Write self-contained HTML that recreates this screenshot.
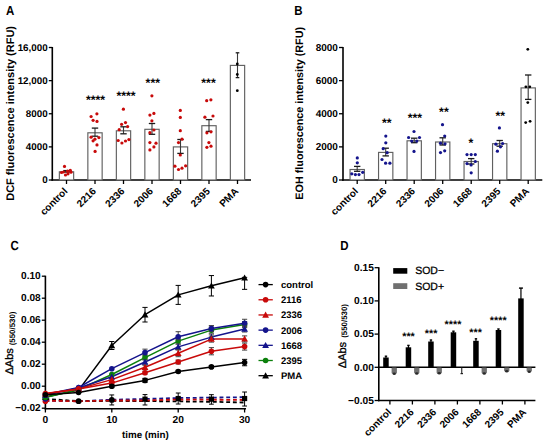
<!DOCTYPE html>
<html><head><meta charset="utf-8"><style>
html,body{margin:0;padding:0;background:#fff;width:550px;height:444px;overflow:hidden}
svg{display:block;font-family:"Liberation Sans", sans-serif}
</style></head><body>
<svg width="550" height="444" viewBox="0 0 550 444" font-family="'Liberation Sans', sans-serif" text-rendering="geometricPrecision">
<rect width="550" height="444" fill="#fff"/>
<text transform="translate(5.9,14.6) scale(0.87,1)" font-size="13.2" font-weight="bold">A</text>
<text transform="translate(294.3,15.0) scale(0.87,1)" font-size="13.2" font-weight="bold">B</text>
<text transform="translate(10.5,249.7) scale(0.87,1)" font-size="13.2" font-weight="bold">C</text>
<text transform="translate(340.3,249.7) scale(0.87,1)" font-size="13.2" font-weight="bold">D</text>
<line x1="52.3" y1="47.0" x2="52.3" y2="180.7" stroke="#000" stroke-width="1.6" />
<line x1="51.5" y1="180.0" x2="251" y2="180.0" stroke="#000" stroke-width="1.6" />
<line x1="48.8" y1="180.0" x2="52.3" y2="180.0" stroke="#000" stroke-width="1.3" />
<text x="47.6" y="183.2" font-size="9.8" text-anchor="end" font-weight="bold" fill="#000" >0</text>
<line x1="48.8" y1="146.875" x2="52.3" y2="146.875" stroke="#000" stroke-width="1.3" />
<text x="47.6" y="150.075" font-size="9.8" text-anchor="end" font-weight="bold" fill="#000" >4000</text>
<line x1="48.8" y1="113.75" x2="52.3" y2="113.75" stroke="#000" stroke-width="1.3" />
<text x="47.6" y="116.95" font-size="9.8" text-anchor="end" font-weight="bold" fill="#000" >8000</text>
<line x1="48.8" y1="80.625" x2="52.3" y2="80.625" stroke="#000" stroke-width="1.3" />
<text x="47.6" y="83.825" font-size="9.8" text-anchor="end" font-weight="bold" fill="#000" >12,000</text>
<line x1="48.8" y1="47.5" x2="52.3" y2="47.5" stroke="#000" stroke-width="1.3" />
<text x="47.6" y="50.7" font-size="9.8" text-anchor="end" font-weight="bold" fill="#000" >16,000</text>
<text transform="translate(13.9,113.4) rotate(-90)" font-size="11" text-anchor="middle" font-weight="bold">DCF fluorescence intensity (RFU)</text>
<rect x="59.35" y="171.8" width="14.3" height="8.199999999999994" fill="#fff" stroke="#606060" stroke-width="1.15"/>
<line x1="66.5" y1="180.0" x2="66.5" y2="184.0" stroke="#000" stroke-width="1.3" />
<text transform="translate(68.1,191.9) rotate(-45)" font-size="10" text-anchor="end" font-weight="bold">control</text>
<rect x="87.85" y="132.8" width="14.3" height="47.199999999999996" fill="#fff" stroke="#606060" stroke-width="1.15"/>
<line x1="95.0" y1="180.0" x2="95.0" y2="184.0" stroke="#000" stroke-width="1.3" />
<text transform="translate(96.6,191.9) rotate(-45)" font-size="10" text-anchor="end" font-weight="bold">2216</text>
<rect x="116.35" y="130.8" width="14.3" height="49.199999999999996" fill="#fff" stroke="#606060" stroke-width="1.15"/>
<line x1="123.5" y1="180.0" x2="123.5" y2="184.0" stroke="#000" stroke-width="1.3" />
<text transform="translate(125.1,191.9) rotate(-45)" font-size="10" text-anchor="end" font-weight="bold">2336</text>
<rect x="144.85" y="129.3" width="14.3" height="50.699999999999996" fill="#fff" stroke="#606060" stroke-width="1.15"/>
<line x1="152.0" y1="180.0" x2="152.0" y2="184.0" stroke="#000" stroke-width="1.3" />
<text transform="translate(153.6,191.9) rotate(-45)" font-size="10" text-anchor="end" font-weight="bold">2006</text>
<rect x="173.35" y="146.9" width="14.3" height="33.1" fill="#fff" stroke="#606060" stroke-width="1.15"/>
<line x1="180.5" y1="180.0" x2="180.5" y2="184.0" stroke="#000" stroke-width="1.3" />
<text transform="translate(182.1,191.9) rotate(-45)" font-size="10" text-anchor="end" font-weight="bold">1668</text>
<rect x="201.85" y="125.7" width="14.3" height="54.300000000000004" fill="#fff" stroke="#606060" stroke-width="1.15"/>
<line x1="209.0" y1="180.0" x2="209.0" y2="184.0" stroke="#000" stroke-width="1.3" />
<text transform="translate(210.6,191.9) rotate(-45)" font-size="10" text-anchor="end" font-weight="bold">2395</text>
<rect x="230.35" y="65.4" width="14.3" height="114.6" fill="#fff" stroke="#606060" stroke-width="1.15"/>
<line x1="237.5" y1="180.0" x2="237.5" y2="184.0" stroke="#000" stroke-width="1.3" />
<text transform="translate(239.1,191.9) rotate(-45)" font-size="10" text-anchor="end" font-weight="bold">PMA</text>
<line x1="66.5" y1="170.6" x2="66.5" y2="172.0" stroke="#3a3a3a" stroke-width="1.1" />
<line x1="63.3" y1="170.6" x2="69.7" y2="170.6" stroke="#1a1a1a" stroke-width="1.3" />
<line x1="63.3" y1="172.0" x2="69.7" y2="172.0" stroke="#1a1a1a" stroke-width="1.3" />
<line x1="95.0" y1="128.1" x2="95.0" y2="136.2" stroke="#3a3a3a" stroke-width="1.1" />
<line x1="91.8" y1="128.1" x2="98.2" y2="128.1" stroke="#1a1a1a" stroke-width="1.3" />
<line x1="91.8" y1="136.2" x2="98.2" y2="136.2" stroke="#1a1a1a" stroke-width="1.3" />
<line x1="123.5" y1="126.8" x2="123.5" y2="133.8" stroke="#3a3a3a" stroke-width="1.1" />
<line x1="120.3" y1="126.8" x2="126.7" y2="126.8" stroke="#1a1a1a" stroke-width="1.3" />
<line x1="120.3" y1="133.8" x2="126.7" y2="133.8" stroke="#1a1a1a" stroke-width="1.3" />
<line x1="152.0" y1="123.5" x2="152.0" y2="134.3" stroke="#3a3a3a" stroke-width="1.1" />
<line x1="148.8" y1="123.5" x2="155.2" y2="123.5" stroke="#1a1a1a" stroke-width="1.3" />
<line x1="148.8" y1="134.3" x2="155.2" y2="134.3" stroke="#1a1a1a" stroke-width="1.3" />
<line x1="180.5" y1="139.5" x2="180.5" y2="153.4" stroke="#3a3a3a" stroke-width="1.1" />
<line x1="177.3" y1="139.5" x2="183.7" y2="139.5" stroke="#1a1a1a" stroke-width="1.3" />
<line x1="177.3" y1="153.4" x2="183.7" y2="153.4" stroke="#1a1a1a" stroke-width="1.3" />
<line x1="209.0" y1="119.6" x2="209.0" y2="131.4" stroke="#3a3a3a" stroke-width="1.1" />
<line x1="205.8" y1="119.6" x2="212.2" y2="119.6" stroke="#1a1a1a" stroke-width="1.3" />
<line x1="205.8" y1="131.4" x2="212.2" y2="131.4" stroke="#1a1a1a" stroke-width="1.3" />
<line x1="237.5" y1="52.8" x2="237.5" y2="77.6" stroke="#3a3a3a" stroke-width="1.1" />
<line x1="235.7" y1="52.8" x2="239.3" y2="52.8" stroke="#1a1a1a" stroke-width="1.3" />
<line x1="235.7" y1="77.6" x2="239.3" y2="77.6" stroke="#1a1a1a" stroke-width="1.3" />
<circle cx="64.5" cy="166.4" r="1.6" fill="#c80a0a"/>
<circle cx="61.5" cy="172.5" r="1.6" fill="#c80a0a"/>
<circle cx="65.5" cy="175.0" r="1.6" fill="#c80a0a"/>
<circle cx="70.3" cy="170.3" r="1.6" fill="#c80a0a"/>
<circle cx="71.0" cy="172.2" r="1.6" fill="#c80a0a"/>
<circle cx="68" cy="173.8" r="1.6" fill="#c80a0a"/>
<circle cx="63.5" cy="172.0" r="1.6" fill="#c80a0a"/>
<circle cx="67.5" cy="171.2" r="1.6" fill="#c80a0a"/>
<circle cx="96.9" cy="113.8" r="1.6" fill="#c80a0a"/>
<circle cx="91.1" cy="116.5" r="1.6" fill="#c80a0a"/>
<circle cx="93.1" cy="120.3" r="1.6" fill="#c80a0a"/>
<circle cx="97" cy="121.4" r="1.6" fill="#c80a0a"/>
<circle cx="91.1" cy="137.2" r="1.6" fill="#c80a0a"/>
<circle cx="94.9" cy="139.2" r="1.6" fill="#c80a0a"/>
<circle cx="98.9" cy="137.6" r="1.6" fill="#c80a0a"/>
<circle cx="93.1" cy="140.8" r="1.6" fill="#c80a0a"/>
<circle cx="97" cy="144.9" r="1.6" fill="#c80a0a"/>
<circle cx="95.1" cy="151.4" r="1.6" fill="#c80a0a"/>
<circle cx="123.4" cy="109.2" r="1.6" fill="#c80a0a"/>
<circle cx="125.5" cy="122.6" r="1.6" fill="#c80a0a"/>
<circle cx="121.6" cy="124.3" r="1.6" fill="#c80a0a"/>
<circle cx="127.6" cy="126.6" r="1.6" fill="#c80a0a"/>
<circle cx="119.2" cy="129.7" r="1.6" fill="#c80a0a"/>
<circle cx="118.2" cy="140.5" r="1.6" fill="#c80a0a"/>
<circle cx="121.9" cy="143" r="1.6" fill="#c80a0a"/>
<circle cx="125.5" cy="141" r="1.6" fill="#c80a0a"/>
<circle cx="128.9" cy="139.6" r="1.6" fill="#c80a0a"/>
<circle cx="151.9" cy="95.8" r="1.6" fill="#c80a0a"/>
<circle cx="149.9" cy="115.1" r="1.6" fill="#c80a0a"/>
<circle cx="153.9" cy="113.4" r="1.6" fill="#c80a0a"/>
<circle cx="151.9" cy="120.8" r="1.6" fill="#c80a0a"/>
<circle cx="153.9" cy="130" r="1.6" fill="#c80a0a"/>
<circle cx="149.9" cy="132.7" r="1.6" fill="#c80a0a"/>
<circle cx="149.9" cy="142.6" r="1.6" fill="#c80a0a"/>
<circle cx="156" cy="143.2" r="1.6" fill="#c80a0a"/>
<circle cx="153.9" cy="146.9" r="1.6" fill="#c80a0a"/>
<circle cx="149.9" cy="149.9" r="1.6" fill="#c80a0a"/>
<circle cx="180.3" cy="110.4" r="1.6" fill="#c80a0a"/>
<circle cx="180.3" cy="117.4" r="1.6" fill="#c80a0a"/>
<circle cx="180.3" cy="130.7" r="1.6" fill="#c80a0a"/>
<circle cx="182" cy="139.2" r="1.6" fill="#c80a0a"/>
<circle cx="178.5" cy="142.6" r="1.6" fill="#c80a0a"/>
<circle cx="180.3" cy="155" r="1.6" fill="#c80a0a"/>
<circle cx="174.9" cy="166.2" r="1.6" fill="#c80a0a"/>
<circle cx="178.5" cy="169.5" r="1.6" fill="#c80a0a"/>
<circle cx="182" cy="168.2" r="1.6" fill="#c80a0a"/>
<circle cx="185.6" cy="165.8" r="1.6" fill="#c80a0a"/>
<circle cx="206.7" cy="100.7" r="1.6" fill="#c80a0a"/>
<circle cx="210.9" cy="99.8" r="1.6" fill="#c80a0a"/>
<circle cx="204.9" cy="117.2" r="1.6" fill="#c80a0a"/>
<circle cx="213" cy="116" r="1.6" fill="#c80a0a"/>
<circle cx="206.9" cy="132.8" r="1.6" fill="#c80a0a"/>
<circle cx="211" cy="131.8" r="1.6" fill="#c80a0a"/>
<circle cx="208.9" cy="142.6" r="1.6" fill="#c80a0a"/>
<circle cx="206.9" cy="147.3" r="1.6" fill="#c80a0a"/>
<circle cx="211" cy="146.2" r="1.6" fill="#c80a0a"/>
<circle cx="237.3" cy="64" r="1.4" fill="#000"/>
<circle cx="237.3" cy="74.5" r="1.4" fill="#000"/>
<circle cx="237.3" cy="90.7" r="1.4" fill="#000"/>
<text x="95.6" y="104.30000000000001" font-size="12.3" text-anchor="middle" font-weight="bold" fill="#000" >****</text>
<text x="126.1" y="99.7" font-size="12.3" text-anchor="middle" font-weight="bold" fill="#000" >****</text>
<text x="152.8" y="87.2" font-size="12.3" text-anchor="middle" font-weight="bold" fill="#000" >***</text>
<text x="208.5" y="87.10000000000001" font-size="12.3" text-anchor="middle" font-weight="bold" fill="#000" >***</text>
<line x1="343.0" y1="47.0" x2="343.0" y2="180.7" stroke="#000" stroke-width="1.6" />
<line x1="342.2" y1="180.0" x2="542.3" y2="180.0" stroke="#000" stroke-width="1.6" />
<line x1="339.0" y1="180.0" x2="343.0" y2="180.0" stroke="#000" stroke-width="1.3" />
<text x="337.9" y="183.2" font-size="10" text-anchor="end" font-weight="bold" fill="#000" >0</text>
<line x1="339.0" y1="146.875" x2="343.0" y2="146.875" stroke="#000" stroke-width="1.3" />
<text x="337.9" y="150.075" font-size="10" text-anchor="end" font-weight="bold" fill="#000" >2000</text>
<line x1="339.0" y1="113.75" x2="343.0" y2="113.75" stroke="#000" stroke-width="1.3" />
<text x="337.9" y="116.95" font-size="10" text-anchor="end" font-weight="bold" fill="#000" >4000</text>
<line x1="339.0" y1="80.625" x2="343.0" y2="80.625" stroke="#000" stroke-width="1.3" />
<text x="337.9" y="83.825" font-size="10" text-anchor="end" font-weight="bold" fill="#000" >6000</text>
<line x1="339.0" y1="47.5" x2="343.0" y2="47.5" stroke="#000" stroke-width="1.3" />
<text x="337.9" y="50.7" font-size="10" text-anchor="end" font-weight="bold" fill="#000" >8000</text>
<text transform="translate(303.0,113.3) rotate(-90)" font-size="10.8" text-anchor="middle" font-weight="bold">EOH fluorescence intensity (RFU)</text>
<rect x="350.05" y="169.5" width="14.3" height="10.499999999999995" fill="#fff" stroke="#606060" stroke-width="1.15"/>
<line x1="357.2" y1="180.0" x2="357.2" y2="184.0" stroke="#000" stroke-width="1.3" />
<text transform="translate(358.8,191.9) rotate(-45)" font-size="10" text-anchor="end" font-weight="bold">control</text>
<rect x="378.55" y="152.4" width="14.3" height="27.599999999999987" fill="#fff" stroke="#606060" stroke-width="1.15"/>
<line x1="385.7" y1="180.0" x2="385.7" y2="184.0" stroke="#000" stroke-width="1.3" />
<text transform="translate(387.3,191.9) rotate(-45)" font-size="10" text-anchor="end" font-weight="bold">2216</text>
<rect x="407.05" y="140.79999999999998" width="14.3" height="39.20000000000001" fill="#fff" stroke="#606060" stroke-width="1.15"/>
<line x1="414.2" y1="180.0" x2="414.2" y2="184.0" stroke="#000" stroke-width="1.3" />
<text transform="translate(415.8,191.9) rotate(-45)" font-size="10" text-anchor="end" font-weight="bold">2336</text>
<rect x="435.55" y="142.0" width="14.3" height="37.99999999999999" fill="#fff" stroke="#606060" stroke-width="1.15"/>
<line x1="442.7" y1="180.0" x2="442.7" y2="184.0" stroke="#000" stroke-width="1.3" />
<text transform="translate(444.3,191.9) rotate(-45)" font-size="10" text-anchor="end" font-weight="bold">2006</text>
<rect x="464.05" y="161.5" width="14.3" height="18.499999999999993" fill="#fff" stroke="#606060" stroke-width="1.15"/>
<line x1="471.2" y1="180.0" x2="471.2" y2="184.0" stroke="#000" stroke-width="1.3" />
<text transform="translate(472.8,191.9) rotate(-45)" font-size="10" text-anchor="end" font-weight="bold">1668</text>
<rect x="492.55" y="143.7" width="14.3" height="36.300000000000004" fill="#fff" stroke="#606060" stroke-width="1.15"/>
<line x1="499.7" y1="180.0" x2="499.7" y2="184.0" stroke="#000" stroke-width="1.3" />
<text transform="translate(501.3,191.9) rotate(-45)" font-size="10" text-anchor="end" font-weight="bold">2395</text>
<rect x="521.0500000000001" y="87.89999999999999" width="14.3" height="92.10000000000001" fill="#fff" stroke="#606060" stroke-width="1.15"/>
<line x1="528.2" y1="180.0" x2="528.2" y2="184.0" stroke="#000" stroke-width="1.3" />
<text transform="translate(529.8000000000001,191.9) rotate(-45)" font-size="10" text-anchor="end" font-weight="bold">PMA</text>
<line x1="357.2" y1="166.4" x2="357.2" y2="171.3" stroke="#3a3a3a" stroke-width="1.1" />
<line x1="354.0" y1="166.4" x2="360.4" y2="166.4" stroke="#1a1a1a" stroke-width="1.3" />
<line x1="354.0" y1="171.3" x2="360.4" y2="171.3" stroke="#1a1a1a" stroke-width="1.3" />
<line x1="385.7" y1="148.2" x2="385.7" y2="155.9" stroke="#3a3a3a" stroke-width="1.1" />
<line x1="382.5" y1="148.2" x2="388.9" y2="148.2" stroke="#1a1a1a" stroke-width="1.3" />
<line x1="382.5" y1="155.9" x2="388.9" y2="155.9" stroke="#1a1a1a" stroke-width="1.3" />
<line x1="414.2" y1="138.2" x2="414.2" y2="142.7" stroke="#3a3a3a" stroke-width="1.1" />
<line x1="411.0" y1="138.2" x2="417.4" y2="138.2" stroke="#1a1a1a" stroke-width="1.3" />
<line x1="411.0" y1="142.7" x2="417.4" y2="142.7" stroke="#1a1a1a" stroke-width="1.3" />
<line x1="442.7" y1="137.8" x2="442.7" y2="145" stroke="#3a3a3a" stroke-width="1.1" />
<line x1="439.5" y1="137.8" x2="445.9" y2="137.8" stroke="#1a1a1a" stroke-width="1.3" />
<line x1="439.5" y1="145" x2="445.9" y2="145" stroke="#1a1a1a" stroke-width="1.3" />
<line x1="471.2" y1="158.6" x2="471.2" y2="164" stroke="#3a3a3a" stroke-width="1.1" />
<line x1="468.0" y1="158.6" x2="474.4" y2="158.6" stroke="#1a1a1a" stroke-width="1.3" />
<line x1="468.0" y1="164" x2="474.4" y2="164" stroke="#1a1a1a" stroke-width="1.3" />
<line x1="499.7" y1="140.5" x2="499.7" y2="146.2" stroke="#3a3a3a" stroke-width="1.1" />
<line x1="496.5" y1="140.5" x2="502.9" y2="140.5" stroke="#1a1a1a" stroke-width="1.3" />
<line x1="496.5" y1="146.2" x2="502.9" y2="146.2" stroke="#1a1a1a" stroke-width="1.3" />
<line x1="528.2" y1="75" x2="528.2" y2="99.4" stroke="#3a3a3a" stroke-width="1.1" />
<line x1="525.0" y1="75" x2="531.4000000000001" y2="75" stroke="#1a1a1a" stroke-width="1.3" />
<line x1="525.0" y1="99.4" x2="531.4000000000001" y2="99.4" stroke="#1a1a1a" stroke-width="1.3" />
<circle cx="357.3" cy="157.9" r="1.6" fill="#14148c"/>
<circle cx="357.3" cy="162.8" r="1.6" fill="#14148c"/>
<circle cx="351.8" cy="173.8" r="1.6" fill="#14148c"/>
<circle cx="355.4" cy="174.6" r="1.6" fill="#14148c"/>
<circle cx="359" cy="174.6" r="1.6" fill="#14148c"/>
<circle cx="362.7" cy="172.3" r="1.6" fill="#14148c"/>
<circle cx="385.8" cy="136.1" r="1.6" fill="#14148c"/>
<circle cx="385.8" cy="142.8" r="1.6" fill="#14148c"/>
<circle cx="383.2" cy="148.7" r="1.6" fill="#14148c"/>
<circle cx="387.2" cy="152.7" r="1.6" fill="#14148c"/>
<circle cx="382" cy="159.5" r="1.6" fill="#14148c"/>
<circle cx="385.6" cy="163.2" r="1.6" fill="#14148c"/>
<circle cx="389.9" cy="163.2" r="1.6" fill="#14148c"/>
<circle cx="414" cy="131.5" r="1.6" fill="#14148c"/>
<circle cx="408.6" cy="137.5" r="1.6" fill="#14148c"/>
<circle cx="419.5" cy="137.5" r="1.6" fill="#14148c"/>
<circle cx="411.7" cy="141.1" r="1.6" fill="#14148c"/>
<circle cx="416.8" cy="141.1" r="1.6" fill="#14148c"/>
<circle cx="414" cy="151.4" r="1.6" fill="#14148c"/>
<circle cx="442.5" cy="124.7" r="1.6" fill="#14148c"/>
<circle cx="444.7" cy="136" r="1.6" fill="#14148c"/>
<circle cx="440.5" cy="143.2" r="1.6" fill="#14148c"/>
<circle cx="445" cy="143.8" r="1.6" fill="#14148c"/>
<circle cx="440.5" cy="152.6" r="1.6" fill="#14148c"/>
<circle cx="444.7" cy="150.8" r="1.6" fill="#14148c"/>
<circle cx="467" cy="154.6" r="1.6" fill="#14148c"/>
<circle cx="471.2" cy="154.6" r="1.6" fill="#14148c"/>
<circle cx="475.3" cy="154.6" r="1.6" fill="#14148c"/>
<circle cx="467" cy="163.6" r="1.6" fill="#14148c"/>
<circle cx="471.1" cy="164.9" r="1.6" fill="#14148c"/>
<circle cx="475.3" cy="161.5" r="1.6" fill="#14148c"/>
<circle cx="471.2" cy="172.8" r="1.6" fill="#14148c"/>
<circle cx="499.4" cy="127.9" r="1.6" fill="#14148c"/>
<circle cx="495.9" cy="144.2" r="1.6" fill="#14148c"/>
<circle cx="502.6" cy="143.5" r="1.6" fill="#14148c"/>
<circle cx="500.5" cy="146.8" r="1.6" fill="#14148c"/>
<circle cx="497.4" cy="151.2" r="1.6" fill="#14148c"/>
<circle cx="527.8" cy="49.3" r="1.4" fill="#000"/>
<circle cx="525.9" cy="86.8" r="1.4" fill="#000"/>
<circle cx="529.8" cy="86.8" r="1.4" fill="#000"/>
<circle cx="527.8" cy="102.6" r="1.4" fill="#000"/>
<circle cx="525.7" cy="122.6" r="1.4" fill="#000"/>
<circle cx="530.1" cy="121.3" r="1.4" fill="#000"/>
<text x="386.7" y="126.9" font-size="12.3" text-anchor="middle" font-weight="bold" fill="#000" >**</text>
<text x="414.9" y="122.4" font-size="12.3" text-anchor="middle" font-weight="bold" fill="#000" >***</text>
<text x="443.9" y="115.9" font-size="12.3" text-anchor="middle" font-weight="bold" fill="#000" >**</text>
<text x="471" y="147.20000000000002" font-size="12.3" text-anchor="middle" font-weight="bold" fill="#000" >*</text>
<text x="500.3" y="120.10000000000001" font-size="12.3" text-anchor="middle" font-weight="bold" fill="#000" >**</text>
<line x1="45.4" y1="275.7" x2="45.4" y2="409.2" stroke="#000" stroke-width="1.6" />
<line x1="44.6" y1="408.7" x2="246" y2="408.7" stroke="#000" stroke-width="1.6" />
<line x1="41.8" y1="276.2" x2="45.4" y2="276.2" stroke="#000" stroke-width="1.3" />
<text x="40.7" y="279.2" font-size="10.1" text-anchor="end" font-weight="bold" fill="#000" >0.10</text>
<line x1="41.8" y1="298.2" x2="45.4" y2="298.2" stroke="#000" stroke-width="1.3" />
<text x="40.7" y="301.2" font-size="10.1" text-anchor="end" font-weight="bold" fill="#000" >0.08</text>
<line x1="41.8" y1="320.2" x2="45.4" y2="320.2" stroke="#000" stroke-width="1.3" />
<text x="40.7" y="323.2" font-size="10.1" text-anchor="end" font-weight="bold" fill="#000" >0.06</text>
<line x1="41.8" y1="342.2" x2="45.4" y2="342.2" stroke="#000" stroke-width="1.3" />
<text x="40.7" y="345.2" font-size="10.1" text-anchor="end" font-weight="bold" fill="#000" >0.04</text>
<line x1="41.8" y1="364.2" x2="45.4" y2="364.2" stroke="#000" stroke-width="1.3" />
<text x="40.7" y="367.2" font-size="10.1" text-anchor="end" font-weight="bold" fill="#000" >0.02</text>
<line x1="41.8" y1="386.2" x2="45.4" y2="386.2" stroke="#000" stroke-width="1.3" />
<text x="40.7" y="389.2" font-size="10.1" text-anchor="end" font-weight="bold" fill="#000" >0.00</text>
<line x1="41.8" y1="408.2" x2="45.4" y2="408.2" stroke="#000" stroke-width="1.3" />
<text x="40.7" y="411.2" font-size="10.1" text-anchor="end" font-weight="bold" fill="#000" >−0.02</text>
<line x1="45.4" y1="408.7" x2="45.4" y2="412.5" stroke="#000" stroke-width="1.3" />
<text x="45.4" y="423.4" font-size="10.2" text-anchor="middle" font-weight="bold" fill="#000" >0</text>
<line x1="111.79999999999998" y1="408.7" x2="111.79999999999998" y2="412.5" stroke="#000" stroke-width="1.3" />
<text x="111.79999999999998" y="423.4" font-size="10.2" text-anchor="middle" font-weight="bold" fill="#000" >10</text>
<line x1="178.2" y1="408.7" x2="178.2" y2="412.5" stroke="#000" stroke-width="1.3" />
<text x="178.2" y="423.4" font-size="10.2" text-anchor="middle" font-weight="bold" fill="#000" >20</text>
<line x1="244.6" y1="408.7" x2="244.6" y2="412.5" stroke="#000" stroke-width="1.3" />
<text x="244.6" y="423.4" font-size="10.2" text-anchor="middle" font-weight="bold" fill="#000" >30</text>
<text x="145.4" y="437.5" font-size="9.8" text-anchor="middle" font-weight="bold" fill="#000" >time (min)</text>
<text transform="translate(12.6,374.5) rotate(-90)" font-size="11" font-weight="normal" stroke="#000" stroke-width="0.3">ΔAbs</text>
<text transform="translate(15.1,345.3) rotate(-90)" font-size="7.9" font-weight="bold">(550/530)</text>
<polyline points="45.4,400.7 78.6,401.3 111.8,399.7 145.0,399.0 178.2,398.0 211.4,397.6 244.6,397.2" fill="none" stroke="#14148c" stroke-width="1.8" stroke-dasharray="3.9,2.8"/>
<polyline points="45.4,398.8 78.6,401.2 111.8,400.9 145.0,401.1 178.2,401.4 211.4,401.8 244.6,402.5" fill="none" stroke="#000" stroke-width="1.8" stroke-dasharray="3.9,2.8"/>
<polyline points="45.4,400.7 78.6,401.3 111.8,400.5 145.0,400.5 178.2,399.5 211.4,399.7 244.6,400.0" fill="none" stroke="#c80a0a" stroke-width="1.8" stroke-dasharray="3.9,2.8"/>
<circle cx="78.6" cy="401.2" r="2.9" fill="#000"/>
<line x1="111.79999999999998" y1="394.95" x2="111.79999999999998" y2="404.95" stroke="#000" stroke-width="1.0" />
<line x1="109.39999999999998" y1="394.95" x2="114.19999999999999" y2="394.95" stroke="#000" stroke-width="1.0" />
<line x1="109.39999999999998" y1="404.95" x2="114.19999999999999" y2="404.95" stroke="#000" stroke-width="1.0" />
<circle cx="111.8" cy="399.9" r="2.9" fill="#000"/>
<line x1="145.0" y1="394.58" x2="145.0" y2="404.98" stroke="#000" stroke-width="1.0" />
<line x1="142.6" y1="394.58" x2="147.4" y2="394.58" stroke="#000" stroke-width="1.0" />
<line x1="142.6" y1="404.98" x2="147.4" y2="404.98" stroke="#000" stroke-width="1.0" />
<rect x="142.4" y="396.58" width="5.2" height="5.2" fill="#000"/>
<line x1="178.2" y1="393.02" x2="178.2" y2="404.02" stroke="#000" stroke-width="1.0" />
<line x1="175.79999999999998" y1="393.02" x2="180.6" y2="393.02" stroke="#000" stroke-width="1.0" />
<line x1="175.79999999999998" y1="404.02" x2="180.6" y2="404.02" stroke="#000" stroke-width="1.0" />
<rect x="175.6" y="395.91999999999996" width="5.2" height="5.2" fill="#000"/>
<line x1="211.4" y1="394.68" x2="211.4" y2="404.18" stroke="#000" stroke-width="1.0" />
<line x1="209.0" y1="394.68" x2="213.8" y2="394.68" stroke="#000" stroke-width="1.0" />
<line x1="209.0" y1="404.18" x2="213.8" y2="404.18" stroke="#000" stroke-width="1.0" />
<rect x="208.8" y="396.58" width="5.2" height="5.2" fill="#000"/>
<line x1="244.6" y1="392.02" x2="244.6" y2="406.02" stroke="#000" stroke-width="1.0" />
<line x1="242.2" y1="392.02" x2="247.0" y2="392.02" stroke="#000" stroke-width="1.0" />
<line x1="242.2" y1="406.02" x2="247.0" y2="406.02" stroke="#000" stroke-width="1.0" />
<rect x="242.0" y="395.91999999999996" width="5.2" height="5.2" fill="#000"/>
<circle cx="45.4" cy="401.2" r="2.8" fill="#c80a0a"/>
<circle cx="45.4" cy="399.0" r="2.8" fill="#14148c"/>
<polyline points="45.4,397.0 78.6,390.1 111.8,345.5 145.0,314.7 178.2,294.9 211.4,285.8 244.6,277.8" fill="none" stroke="#000" stroke-width="1.5" stroke-linejoin="round"/>
<polyline points="45.4,397.5 78.6,389.5 111.8,374.5 145.0,357.6 178.2,341.1 211.4,330.1 244.6,324.6" fill="none" stroke="#0c800c" stroke-width="1.5" stroke-linejoin="round"/>
<polyline points="45.4,394.4 78.6,387.5 111.8,368.7 145.0,352.6 178.2,336.7 211.4,328.6 244.6,323.3" fill="none" stroke="#14148c" stroke-width="1.5" stroke-linejoin="round"/>
<polyline points="45.4,395.0 78.6,388.0 111.8,376.8 145.0,362.0 178.2,346.9 211.4,337.1 244.6,329.0" fill="none" stroke="#14148c" stroke-width="1.5" stroke-linejoin="round"/>
<polyline points="45.4,393.7 78.6,388.9 111.8,379.6 145.0,367.3 178.2,353.2 211.4,339.1 244.6,338.9" fill="none" stroke="#c80a0a" stroke-width="1.5" stroke-linejoin="round"/>
<polyline points="45.4,393.5 78.6,388.9 111.8,383.1 145.0,372.7 178.2,362.0 211.4,351.2 244.6,346.6" fill="none" stroke="#c80a0a" stroke-width="1.5" stroke-linejoin="round"/>
<polyline points="45.4,394.8 78.6,392.5 111.8,386.2 145.0,380.4 178.2,371.5 211.4,366.9 244.6,362.6" fill="none" stroke="#000" stroke-width="1.5" stroke-linejoin="round"/>
<polygon points="45.4,393.6 48.8,399.7 42.0,399.7" fill="#000"/>
<polygon points="78.6,386.7 82.0,392.8 75.2,392.8" fill="#000"/>
<line x1="111.79999999999998" y1="341.5" x2="111.79999999999998" y2="349.5" stroke="#000" stroke-width="1.0" />
<line x1="109.19999999999999" y1="341.5" x2="114.39999999999998" y2="341.5" stroke="#000" stroke-width="1.0" />
<line x1="109.19999999999999" y1="349.5" x2="114.39999999999998" y2="349.5" stroke="#000" stroke-width="1.0" />
<polygon points="111.8,342.1 115.2,348.2 108.4,348.2" fill="#000"/>
<line x1="145.0" y1="307.4" x2="145.0" y2="322.0" stroke="#000" stroke-width="1.0" />
<line x1="142.4" y1="307.4" x2="147.6" y2="307.4" stroke="#000" stroke-width="1.0" />
<line x1="142.4" y1="322.0" x2="147.6" y2="322.0" stroke="#000" stroke-width="1.0" />
<polygon points="145.0,311.3 148.4,317.4 141.6,317.4" fill="#000"/>
<line x1="178.2" y1="285.4" x2="178.2" y2="304.4" stroke="#000" stroke-width="1.0" />
<line x1="175.6" y1="285.4" x2="180.79999999999998" y2="285.4" stroke="#000" stroke-width="1.0" />
<line x1="175.6" y1="304.4" x2="180.79999999999998" y2="304.4" stroke="#000" stroke-width="1.0" />
<polygon points="178.2,291.5 181.6,297.6 174.8,297.6" fill="#000"/>
<line x1="211.4" y1="275.57" x2="211.4" y2="295.96999999999997" stroke="#000" stroke-width="1.0" />
<line x1="208.8" y1="275.57" x2="214.0" y2="275.57" stroke="#000" stroke-width="1.0" />
<line x1="208.8" y1="295.96999999999997" x2="214.0" y2="295.96999999999997" stroke="#000" stroke-width="1.0" />
<polygon points="211.4,282.4 214.8,288.5 208.0,288.5" fill="#000"/>
<line x1="244.6" y1="277.34999999999997" x2="244.6" y2="289.34999999999997" stroke="#000" stroke-width="1.0" />
<line x1="242.0" y1="277.34999999999997" x2="247.2" y2="277.34999999999997" stroke="#000" stroke-width="1.0" />
<line x1="242.0" y1="289.34999999999997" x2="247.2" y2="289.34999999999997" stroke="#000" stroke-width="1.0" />
<polygon points="244.6,274.4 248.0,280.6 241.2,280.6" fill="#000"/>
<circle cx="45.4" cy="397.5" r="2.8" fill="#0c800c"/>
<circle cx="78.6" cy="389.5" r="2.8" fill="#0c800c"/>
<circle cx="111.8" cy="374.5" r="2.8" fill="#0c800c"/>
<line x1="145.0" y1="355.59999999999997" x2="145.0" y2="359.59999999999997" stroke="#444" stroke-width="1.0" />
<line x1="142.4" y1="355.59999999999997" x2="147.6" y2="355.59999999999997" stroke="#444" stroke-width="1.0" />
<line x1="142.4" y1="359.59999999999997" x2="147.6" y2="359.59999999999997" stroke="#444" stroke-width="1.0" />
<circle cx="145.0" cy="357.6" r="2.8" fill="#0c800c"/>
<line x1="178.2" y1="338.09999999999997" x2="178.2" y2="344.09999999999997" stroke="#444" stroke-width="1.0" />
<line x1="175.6" y1="338.09999999999997" x2="180.79999999999998" y2="338.09999999999997" stroke="#444" stroke-width="1.0" />
<line x1="175.6" y1="344.09999999999997" x2="180.79999999999998" y2="344.09999999999997" stroke="#444" stroke-width="1.0" />
<circle cx="178.2" cy="341.1" r="2.8" fill="#0c800c"/>
<line x1="211.4" y1="327.1" x2="211.4" y2="333.1" stroke="#444" stroke-width="1.0" />
<line x1="208.8" y1="327.1" x2="214.0" y2="327.1" stroke="#444" stroke-width="1.0" />
<line x1="208.8" y1="333.1" x2="214.0" y2="333.1" stroke="#444" stroke-width="1.0" />
<circle cx="211.4" cy="330.1" r="2.8" fill="#0c800c"/>
<line x1="244.6" y1="321.59999999999997" x2="244.6" y2="327.59999999999997" stroke="#444" stroke-width="1.0" />
<line x1="242.0" y1="321.59999999999997" x2="247.2" y2="321.59999999999997" stroke="#444" stroke-width="1.0" />
<line x1="242.0" y1="327.59999999999997" x2="247.2" y2="327.59999999999997" stroke="#444" stroke-width="1.0" />
<circle cx="244.6" cy="324.6" r="2.8" fill="#0c800c"/>
<circle cx="45.4" cy="394.4" r="2.8" fill="#14148c"/>
<circle cx="78.6" cy="387.5" r="2.8" fill="#14148c"/>
<circle cx="111.8" cy="368.7" r="2.8" fill="#14148c"/>
<line x1="145.0" y1="349.15" x2="145.0" y2="354.65" stroke="#444" stroke-width="1.0" />
<line x1="142.4" y1="349.15" x2="147.6" y2="349.15" stroke="#444" stroke-width="1.0" />
<line x1="142.4" y1="354.65" x2="147.6" y2="354.65" stroke="#444" stroke-width="1.0" />
<circle cx="145.0" cy="352.6" r="2.8" fill="#14148c"/>
<line x1="178.2" y1="331.7" x2="178.2" y2="339.7" stroke="#444" stroke-width="1.0" />
<line x1="175.6" y1="331.7" x2="180.79999999999998" y2="331.7" stroke="#444" stroke-width="1.0" />
<line x1="175.6" y1="339.7" x2="180.79999999999998" y2="339.7" stroke="#444" stroke-width="1.0" />
<circle cx="178.2" cy="336.7" r="2.8" fill="#14148c"/>
<line x1="211.4" y1="325.56" x2="211.4" y2="331.56" stroke="#444" stroke-width="1.0" />
<line x1="208.8" y1="325.56" x2="214.0" y2="325.56" stroke="#444" stroke-width="1.0" />
<line x1="208.8" y1="331.56" x2="214.0" y2="331.56" stroke="#444" stroke-width="1.0" />
<circle cx="211.4" cy="328.6" r="2.8" fill="#14148c"/>
<line x1="244.6" y1="319.28" x2="244.6" y2="326.28" stroke="#444" stroke-width="1.0" />
<line x1="242.0" y1="319.28" x2="247.2" y2="319.28" stroke="#444" stroke-width="1.0" />
<line x1="242.0" y1="326.28" x2="247.2" y2="326.28" stroke="#444" stroke-width="1.0" />
<circle cx="244.6" cy="323.3" r="2.8" fill="#14148c"/>
<polygon points="45.4,391.6 48.8,397.7 42.0,397.7" fill="#14148c"/>
<polygon points="78.6,384.6 82.0,390.7 75.2,390.7" fill="#14148c"/>
<polygon points="111.8,373.4 115.2,379.6 108.4,379.6" fill="#14148c"/>
<line x1="145.0" y1="360.0" x2="145.0" y2="364.0" stroke="#444" stroke-width="1.0" />
<line x1="142.4" y1="360.0" x2="147.6" y2="360.0" stroke="#444" stroke-width="1.0" />
<line x1="142.4" y1="364.0" x2="147.6" y2="364.0" stroke="#444" stroke-width="1.0" />
<polygon points="145.0,358.6 148.4,364.7 141.6,364.7" fill="#14148c"/>
<line x1="178.2" y1="343.93" x2="178.2" y2="349.93" stroke="#444" stroke-width="1.0" />
<line x1="175.6" y1="343.93" x2="180.79999999999998" y2="343.93" stroke="#444" stroke-width="1.0" />
<line x1="175.6" y1="349.93" x2="180.79999999999998" y2="349.93" stroke="#444" stroke-width="1.0" />
<polygon points="178.2,343.5 181.6,349.7 174.8,349.7" fill="#14148c"/>
<line x1="211.4" y1="334.14" x2="211.4" y2="340.14" stroke="#444" stroke-width="1.0" />
<line x1="208.8" y1="334.14" x2="214.0" y2="334.14" stroke="#444" stroke-width="1.0" />
<line x1="208.8" y1="340.14" x2="214.0" y2="340.14" stroke="#444" stroke-width="1.0" />
<polygon points="211.4,333.7 214.8,339.9 208.0,339.9" fill="#14148c"/>
<line x1="244.6" y1="326.0" x2="244.6" y2="332.0" stroke="#444" stroke-width="1.0" />
<line x1="242.0" y1="326.0" x2="247.2" y2="326.0" stroke="#444" stroke-width="1.0" />
<line x1="242.0" y1="332.0" x2="247.2" y2="332.0" stroke="#444" stroke-width="1.0" />
<polygon points="244.6,325.6 248.0,331.7 241.2,331.7" fill="#14148c"/>
<polygon points="45.4,390.3 48.8,396.4 42.0,396.4" fill="#c80a0a"/>
<polygon points="78.6,385.6 82.0,391.7 75.2,391.7" fill="#c80a0a"/>
<polygon points="111.8,376.2 115.2,382.3 108.4,382.3" fill="#c80a0a"/>
<line x1="145.0" y1="365.28" x2="145.0" y2="369.28" stroke="#444" stroke-width="1.0" />
<line x1="142.4" y1="365.28" x2="147.6" y2="365.28" stroke="#444" stroke-width="1.0" />
<line x1="142.4" y1="369.28" x2="147.6" y2="369.28" stroke="#444" stroke-width="1.0" />
<polygon points="145.0,363.9 148.4,370.0 141.6,370.0" fill="#c80a0a"/>
<line x1="178.2" y1="349.7" x2="178.2" y2="356.7" stroke="#444" stroke-width="1.0" />
<line x1="175.6" y1="349.7" x2="180.79999999999998" y2="349.7" stroke="#444" stroke-width="1.0" />
<line x1="175.6" y1="356.7" x2="180.79999999999998" y2="356.7" stroke="#444" stroke-width="1.0" />
<polygon points="178.2,349.8 181.6,355.9 174.8,355.9" fill="#c80a0a"/>
<line x1="211.4" y1="336.12" x2="211.4" y2="342.12" stroke="#444" stroke-width="1.0" />
<line x1="208.8" y1="336.12" x2="214.0" y2="336.12" stroke="#444" stroke-width="1.0" />
<line x1="208.8" y1="342.12" x2="214.0" y2="342.12" stroke="#444" stroke-width="1.0" />
<polygon points="211.4,335.7 214.8,341.8 208.0,341.8" fill="#c80a0a"/>
<line x1="244.6" y1="335.9" x2="244.6" y2="341.9" stroke="#444" stroke-width="1.0" />
<line x1="242.0" y1="335.9" x2="247.2" y2="335.9" stroke="#444" stroke-width="1.0" />
<line x1="242.0" y1="341.9" x2="247.2" y2="341.9" stroke="#444" stroke-width="1.0" />
<polygon points="244.6,335.5 248.0,341.6 241.2,341.6" fill="#c80a0a"/>
<circle cx="45.4" cy="393.5" r="2.8" fill="#c80a0a"/>
<circle cx="78.6" cy="388.9" r="2.8" fill="#c80a0a"/>
<circle cx="111.8" cy="383.1" r="2.8" fill="#c80a0a"/>
<line x1="145.0" y1="371.17" x2="145.0" y2="374.17" stroke="#444" stroke-width="1.0" />
<line x1="142.4" y1="371.17" x2="147.6" y2="371.17" stroke="#444" stroke-width="1.0" />
<line x1="142.4" y1="374.17" x2="147.6" y2="374.17" stroke="#444" stroke-width="1.0" />
<circle cx="145.0" cy="372.7" r="2.8" fill="#c80a0a"/>
<line x1="178.2" y1="360.0" x2="178.2" y2="364.0" stroke="#444" stroke-width="1.0" />
<line x1="175.6" y1="360.0" x2="180.79999999999998" y2="360.0" stroke="#444" stroke-width="1.0" />
<line x1="175.6" y1="364.0" x2="180.79999999999998" y2="364.0" stroke="#444" stroke-width="1.0" />
<circle cx="178.2" cy="362.0" r="2.8" fill="#c80a0a"/>
<line x1="211.4" y1="347.61999999999995" x2="211.4" y2="354.82" stroke="#444" stroke-width="1.0" />
<line x1="208.8" y1="347.61999999999995" x2="214.0" y2="347.61999999999995" stroke="#444" stroke-width="1.0" />
<line x1="208.8" y1="354.82" x2="214.0" y2="354.82" stroke="#444" stroke-width="1.0" />
<circle cx="211.4" cy="351.2" r="2.8" fill="#c80a0a"/>
<line x1="244.6" y1="343.1" x2="244.6" y2="350.1" stroke="#444" stroke-width="1.0" />
<line x1="242.0" y1="343.1" x2="247.2" y2="343.1" stroke="#444" stroke-width="1.0" />
<line x1="242.0" y1="350.1" x2="247.2" y2="350.1" stroke="#444" stroke-width="1.0" />
<circle cx="244.6" cy="346.6" r="2.8" fill="#c80a0a"/>
<circle cx="45.4" cy="394.8" r="2.8" fill="#000"/>
<circle cx="78.6" cy="392.5" r="2.8" fill="#000"/>
<line x1="111.79999999999998" y1="384.7" x2="111.79999999999998" y2="387.7" stroke="#000" stroke-width="1.0" />
<line x1="109.19999999999999" y1="384.7" x2="114.39999999999998" y2="384.7" stroke="#000" stroke-width="1.0" />
<line x1="109.19999999999999" y1="387.7" x2="114.39999999999998" y2="387.7" stroke="#000" stroke-width="1.0" />
<circle cx="111.8" cy="386.2" r="2.8" fill="#000"/>
<line x1="145.0" y1="378.37" x2="145.0" y2="382.37" stroke="#000" stroke-width="1.0" />
<line x1="142.4" y1="378.37" x2="147.6" y2="378.37" stroke="#000" stroke-width="1.0" />
<line x1="142.4" y1="382.37" x2="147.6" y2="382.37" stroke="#000" stroke-width="1.0" />
<circle cx="145.0" cy="380.4" r="2.8" fill="#000"/>
<line x1="178.2" y1="370.26" x2="178.2" y2="372.65999999999997" stroke="#000" stroke-width="1.0" />
<line x1="175.6" y1="370.26" x2="180.79999999999998" y2="370.26" stroke="#000" stroke-width="1.0" />
<line x1="175.6" y1="372.65999999999997" x2="180.79999999999998" y2="372.65999999999997" stroke="#000" stroke-width="1.0" />
<circle cx="178.2" cy="371.5" r="2.8" fill="#000"/>
<line x1="211.4" y1="365.75" x2="211.4" y2="368.15" stroke="#000" stroke-width="1.0" />
<line x1="208.8" y1="365.75" x2="214.0" y2="365.75" stroke="#000" stroke-width="1.0" />
<line x1="208.8" y1="368.15" x2="214.0" y2="368.15" stroke="#000" stroke-width="1.0" />
<circle cx="211.4" cy="366.9" r="2.8" fill="#000"/>
<line x1="244.6" y1="359.35" x2="244.6" y2="365.75" stroke="#000" stroke-width="1.0" />
<line x1="242.0" y1="359.35" x2="247.2" y2="359.35" stroke="#000" stroke-width="1.0" />
<line x1="242.0" y1="365.75" x2="247.2" y2="365.75" stroke="#000" stroke-width="1.0" />
<circle cx="244.6" cy="362.6" r="2.8" fill="#000"/>
<line x1="258.5" y1="284.6" x2="272.8" y2="284.6" stroke="#000" stroke-width="1.3" />
<circle cx="265.6" cy="284.6" r="2.8" fill="#000"/>
<text x="281.0" y="288.1" font-size="9.5" text-anchor="start" font-weight="bold" fill="#000" >control</text>
<line x1="258.5" y1="299.78000000000003" x2="272.8" y2="299.78000000000003" stroke="#c80a0a" stroke-width="1.3" />
<circle cx="265.6" cy="299.8" r="2.8" fill="#c80a0a"/>
<text x="281.0" y="303.28000000000003" font-size="9.5" text-anchor="start" font-weight="bold" fill="#000" >2116</text>
<line x1="258.5" y1="314.96000000000004" x2="272.8" y2="314.96000000000004" stroke="#c80a0a" stroke-width="1.3" />
<polygon points="265.6,311.6 269.0,317.7 262.2,317.7" fill="#c80a0a"/>
<text x="281.0" y="318.46000000000004" font-size="9.5" text-anchor="start" font-weight="bold" fill="#000" >2336</text>
<line x1="258.5" y1="330.14000000000004" x2="272.8" y2="330.14000000000004" stroke="#14148c" stroke-width="1.3" />
<circle cx="265.6" cy="330.1" r="2.8" fill="#14148c"/>
<text x="281.0" y="333.64000000000004" font-size="9.5" text-anchor="start" font-weight="bold" fill="#000" >2006</text>
<line x1="258.5" y1="345.32000000000005" x2="272.8" y2="345.32000000000005" stroke="#14148c" stroke-width="1.3" />
<polygon points="265.6,341.9 269.0,348.0 262.2,348.0" fill="#14148c"/>
<text x="281.0" y="348.82000000000005" font-size="9.5" text-anchor="start" font-weight="bold" fill="#000" >1668</text>
<line x1="258.5" y1="360.5" x2="272.8" y2="360.5" stroke="#0c800c" stroke-width="1.3" />
<circle cx="265.6" cy="360.5" r="2.8" fill="#0c800c"/>
<text x="281.0" y="364.0" font-size="9.5" text-anchor="start" font-weight="bold" fill="#000" >2395</text>
<line x1="258.5" y1="375.68" x2="272.8" y2="375.68" stroke="#000" stroke-width="1.3" />
<polygon points="265.6,372.3 269.0,378.4 262.2,378.4" fill="#000"/>
<text x="281.0" y="379.18" font-size="9.5" text-anchor="start" font-weight="bold" fill="#000" >PMA</text>
<line x1="378.8" y1="267.20000000000005" x2="378.8" y2="401.2" stroke="#000" stroke-width="1.6" />
<line x1="374.6" y1="267.70000000000005" x2="378.8" y2="267.70000000000005" stroke="#000" stroke-width="1.3" />
<text x="373.9" y="271.00000000000006" font-size="10.2" text-anchor="end" font-weight="bold" fill="#000" >0.15</text>
<line x1="374.6" y1="300.9" x2="378.8" y2="300.9" stroke="#000" stroke-width="1.3" />
<text x="373.9" y="304.2" font-size="10.2" text-anchor="end" font-weight="bold" fill="#000" >0.10</text>
<line x1="374.6" y1="334.1" x2="378.8" y2="334.1" stroke="#000" stroke-width="1.3" />
<text x="373.9" y="337.40000000000003" font-size="10.2" text-anchor="end" font-weight="bold" fill="#000" >0.05</text>
<line x1="374.6" y1="367.3" x2="378.8" y2="367.3" stroke="#000" stroke-width="1.3" />
<text x="373.9" y="370.6" font-size="10.2" text-anchor="end" font-weight="bold" fill="#000" >0.00</text>
<line x1="374.6" y1="400.5" x2="378.8" y2="400.5" stroke="#000" stroke-width="1.3" />
<text x="373.9" y="403.8" font-size="10.2" text-anchor="end" font-weight="bold" fill="#000" >−0.05</text>
<line x1="378.0" y1="400.5" x2="535.4" y2="400.5" stroke="#000" stroke-width="1.6" />
<line x1="378.8" y1="367.2" x2="535.4" y2="367.2" stroke="#000" stroke-width="1.6" />
<text transform="translate(345.6,368.2) rotate(-90)" font-size="11" font-weight="normal" stroke="#000" stroke-width="0.3">ΔAbs</text>
<text transform="translate(346.6,337.8) rotate(-90)" font-size="7.9" font-weight="bold">(550/530)</text>
<rect x="383.2" y="357.5" width="5.5" height="9.5" fill="#000"/>
<line x1="385.95" y1="356.2" x2="385.95" y2="358.5" stroke="#000" stroke-width="1.2" />
<line x1="384.75" y1="356.2" x2="387.15" y2="356.2" stroke="#000" stroke-width="1.4" />
<rect x="391.59999999999997" y="367.6" width="5.3" height="6.199999999999977" fill="#707070" rx="1"/>
<ellipse cx="394.24999999999994" cy="373.7" rx="1.7" ry="1.3" fill="#2a2a2a"/>
<line x1="389.9" y1="400.5" x2="389.9" y2="404.5" stroke="#000" stroke-width="1.3" />
<text transform="translate(391.9,412.8) rotate(-45)" font-size="10" text-anchor="end" font-weight="bold">control</text>
<rect x="405.7" y="347.3" width="5.5" height="19.69999999999999" fill="#000"/>
<line x1="408.45" y1="345.4" x2="408.45" y2="348.3" stroke="#000" stroke-width="1.2" />
<line x1="407.25" y1="345.4" x2="409.65" y2="345.4" stroke="#000" stroke-width="1.4" />
<rect x="414.09999999999997" y="367.6" width="5.3" height="5.9999999999999885" fill="#707070" rx="1"/>
<ellipse cx="416.74999999999994" cy="373.5" rx="1.7" ry="1.3" fill="#2a2a2a"/>
<line x1="412.4" y1="400.5" x2="412.4" y2="404.5" stroke="#000" stroke-width="1.3" />
<text transform="translate(414.4,412.8) rotate(-45)" font-size="10" text-anchor="end" font-weight="bold">2216</text>
<rect x="428.2" y="341.5" width="5.5" height="25.5" fill="#000"/>
<line x1="430.95" y1="340.0" x2="430.95" y2="342.5" stroke="#000" stroke-width="1.2" />
<line x1="429.75" y1="340.0" x2="432.15" y2="340.0" stroke="#000" stroke-width="1.4" />
<rect x="436.59999999999997" y="367.6" width="5.3" height="5.8" fill="#707070" rx="1"/>
<ellipse cx="439.24999999999994" cy="373.3" rx="1.7" ry="1.3" fill="#2a2a2a"/>
<line x1="434.9" y1="400.5" x2="434.9" y2="404.5" stroke="#000" stroke-width="1.3" />
<text transform="translate(436.9,412.8) rotate(-45)" font-size="10" text-anchor="end" font-weight="bold">2336</text>
<rect x="450.7" y="332.3" width="5.5" height="34.69999999999999" fill="#000"/>
<line x1="453.45" y1="331.2" x2="453.45" y2="333.3" stroke="#000" stroke-width="1.2" />
<line x1="452.25" y1="331.2" x2="454.65" y2="331.2" stroke="#000" stroke-width="1.4" />
<line x1="461.74999999999994" y1="367.5" x2="461.74999999999994" y2="373.6" stroke="#222" stroke-width="1.1" />
<line x1="460.49999999999994" y1="373.6" x2="462.99999999999994" y2="373.6" stroke="#222" stroke-width="1.2" />
<line x1="457.4" y1="400.5" x2="457.4" y2="404.5" stroke="#000" stroke-width="1.3" />
<text transform="translate(459.4,412.8) rotate(-45)" font-size="10" text-anchor="end" font-weight="bold">2006</text>
<rect x="473.2" y="340.8" width="5.5" height="26.19999999999999" fill="#000"/>
<line x1="475.95" y1="338.8" x2="475.95" y2="341.8" stroke="#000" stroke-width="1.2" />
<line x1="474.75" y1="338.8" x2="477.15" y2="338.8" stroke="#000" stroke-width="1.4" />
<rect x="481.59999999999997" y="367.6" width="5.3" height="5.9999999999999885" fill="#707070" rx="1"/>
<ellipse cx="484.24999999999994" cy="373.5" rx="1.7" ry="1.3" fill="#2a2a2a"/>
<line x1="479.9" y1="400.5" x2="479.9" y2="404.5" stroke="#000" stroke-width="1.3" />
<text transform="translate(481.9,412.8) rotate(-45)" font-size="10" text-anchor="end" font-weight="bold">1668</text>
<rect x="495.7" y="330.0" width="5.5" height="37.0" fill="#000"/>
<line x1="498.45" y1="329.0" x2="498.45" y2="331.0" stroke="#000" stroke-width="1.2" />
<line x1="497.25" y1="329.0" x2="499.65" y2="329.0" stroke="#000" stroke-width="1.4" />
<rect x="504.09999999999997" y="367.6" width="5.3" height="3.8" fill="#707070" rx="1"/>
<ellipse cx="506.74999999999994" cy="371.3" rx="1.7" ry="1.3" fill="#2a2a2a"/>
<line x1="502.4" y1="400.5" x2="502.4" y2="404.5" stroke="#000" stroke-width="1.3" />
<text transform="translate(504.4,412.8) rotate(-45)" font-size="10" text-anchor="end" font-weight="bold">2395</text>
<rect x="518.2" y="298.4" width="5.5" height="68.60000000000002" fill="#000"/>
<line x1="520.95" y1="288.1" x2="520.95" y2="299.4" stroke="#000" stroke-width="1.2" />
<line x1="518.95" y1="288.1" x2="522.95" y2="288.1" stroke="#000" stroke-width="1.4" />
<rect x="526.6" y="367.6" width="5.3" height="4.199999999999977" fill="#707070" rx="1"/>
<ellipse cx="529.25" cy="371.7" rx="1.7" ry="1.3" fill="#2a2a2a"/>
<line x1="524.9000000000001" y1="400.5" x2="524.9000000000001" y2="404.5" stroke="#000" stroke-width="1.3" />
<text transform="translate(526.9000000000001,412.8) rotate(-45)" font-size="10" text-anchor="end" font-weight="bold">PMA</text>
<text x="408.5" y="340.2" font-size="10.8" text-anchor="middle" font-weight="bold" fill="#000" >***</text>
<text x="431.1" y="337.0" font-size="10.8" text-anchor="middle" font-weight="bold" fill="#000" >***</text>
<text x="453" y="327.9" font-size="10.8" text-anchor="middle" font-weight="bold" fill="#000" >****</text>
<text x="475.6" y="336.2" font-size="10.8" text-anchor="middle" font-weight="bold" fill="#000" >***</text>
<text x="498.2" y="324.3" font-size="10.8" text-anchor="middle" font-weight="bold" fill="#000" >****</text>
<rect x="393.2" y="268.1" width="14.1" height="5.6" fill="#000"/>
<rect x="393.2" y="283.2" width="14.1" height="5.8" fill="#707070"/>
<text x="415.2" y="274.4" font-size="10.5" text-anchor="start" font-weight="normal" fill="#000" stroke="#000" stroke-width="0.3">SOD−</text>
<text x="415.2" y="289.5" font-size="10.5" text-anchor="start" font-weight="normal" fill="#000" stroke="#000" stroke-width="0.3">SOD+</text>
</svg>
</body></html>
